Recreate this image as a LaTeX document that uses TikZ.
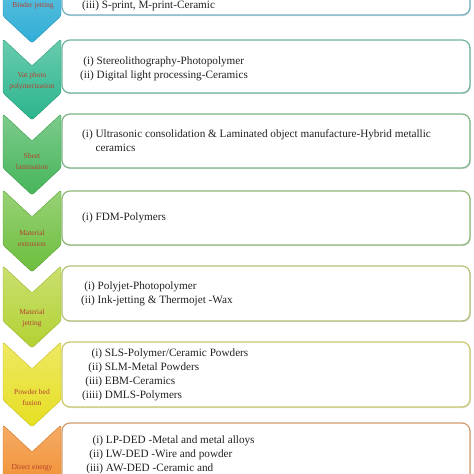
\documentclass[tikz,border=0pt]{standalone}
\usepackage{fontspec}
\setmainfont{Liberation Serif}
\usetikzlibrary{shadows}

\definecolor{binder}{HTML}{2FAED6}
\definecolor{vat}{HTML}{2AB58C}
\definecolor{sheet}{HTML}{45B55A}
\definecolor{extru}{HTML}{6CBE3C}
\definecolor{jet}{HTML}{B2D232}
\definecolor{powder}{HTML}{E6DF22}
\definecolor{ded}{HTML}{F08824}
\definecolor{labred}{HTML}{B5412F}
\definecolor{itemtext}{HTML}{222222}

\begin{document}
\begin{tikzpicture}[x=1pt, y=-1pt,
  stage/.style={text=labred, font=\fontsize{7.5}{10.5}\selectfont, align=center, inner sep=0pt},
  boxframe/.style={rounded corners=8pt, line width=1.2pt, fill=white,
    drop shadow={opacity=0.25, shadow xshift=1pt, shadow yshift=-1.2pt}},
  items/.style={anchor=west, text=itemtext, font=\fontsize{11.2}{14}\selectfont, inner sep=0pt}]

\useasboundingbox (0,0) rectangle (474,474);
\clip (0,0) rectangle (474,474);

% boxes
\foreach \t/\b/\c in {-39/15/binder, 40/93/vat, 114/168/sheet, 191/245/extru, 266/321/jet, 342/407/powder, 423/500/ded}
 \draw[boxframe, draw=\c!60!gray!80] (62,\t) rectangle (470,\b);

% chevrons
\foreach \t/\h/\c in {-38/54/binder, 39/54/vat, 114/54/sheet, 190/55/extru, 266/55/jet, 342/58/powder, 425/54/ded}
 \shade[top color=\c!70!white, bottom color=\c, draw=\c!85!black, line width=.4pt, rounded corners=1.5pt]
  (3,\t) -- (32,{\t+27}) -- (61,\t) -- (61,{\t+\h}) -- (32,{\t+\h+27}) -- (3,{\t+\h}) -- cycle;

% stage names
\node[stage] (lbinder) at (33,6) {Binder jetting};
\node[stage] (lvat) at (32,81) {Vat photo\\polymerization};
\node[stage] (lsheet) at (32,161.5) {Sheet\\lamination};
\node[stage] (lextru) at (32,238.5) {Material\\extrusion};
\node[stage] (ljet) at (32,318) {Material\\jetting};
\node[stage] (lpowder) at (32,397.5) {Powder bed\\fusion};
\node[stage] (lded) at (32,468) {Direct energy};

% processes and materials
\node[items] (tbinder) at (82,6) {\begin{tabular}{@{}r@{ }l@{}}(iii)&S-print, M-print-Ceramic\end{tabular}};
\node[items] (tvat) at (80,69) {\begin{tabular}{@{}r@{ }l@{}}(i)&Stereolithography-Photopolymer\\(ii)&Digital light processing-Ceramics\end{tabular}};
\node[items] (tsheet) at (82,142) {\begin{tabular}{@{}r@{ }l@{}}(i)&Ultrasonic consolidation \& Laminated object manufacture-Hybrid metallic\\&ceramics\end{tabular}};
\node[items] (textru) at (82,218) {\begin{tabular}{@{}r@{ }l@{}}(i)&FDM-Polymers\end{tabular}};
\node[items] (tjet) at (81,294) {\begin{tabular}{@{}r@{ }l@{}}(i)&Polyjet-Photopolymer\\(ii)&Ink-jetting \& Thermojet -Wax\end{tabular}};
\node[items] (tpowder) at (82,375) {\begin{tabular}{@{}r@{ }l@{}}(i)&SLS-Polymer/Ceramic Powders\\(ii)&SLM-Metal Powders\\(iii)&EBM-Ceramics\\(iiii)&DMLS-Polymers\end{tabular}};
\node[items] (tded) at (83,461.5) {\begin{tabular}{@{}r@{ }l@{}}(i)&LP-DED -Metal and metal alloys\\(ii)&LW-DED -Wire and powder\\(iii)&AW-DED -Ceramic and\\(iiii)&EB-DED -\end{tabular}};

\end{tikzpicture}
\end{document}
